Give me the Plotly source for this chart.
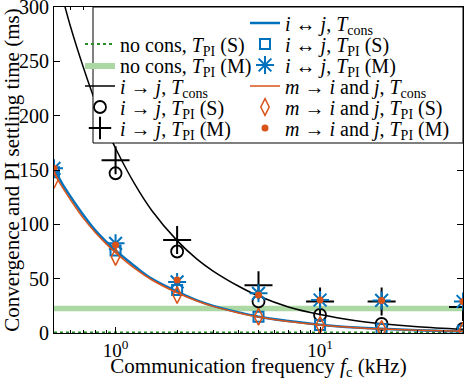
import math
import plotly.graph_objects as go

# ---------------- data ----------------
f_pts = [0.5, 1, 2, 5, 10, 20, 50]                 # kHz
ij_S = [None, 147, 75, 29, 16.6, 8.3, 3.7]         # i -> j, T_PI (S)
ij_M = [None, 159, 85.6, 44, 29, 29, 24]           # i -> j, T_PI (M)
bi_S = [148, 76, 39.6, 15, 7.4, 3.7, 2]            # i <-> j, T_PI (S)
bi_M = [151.5, 82.5, 47, 36.5, 30.4, 30, 29]       # i <-> j, T_PI (M)
m_S = [141, 70, 35, 15, 7.4, 3.7, 2]               # m -> i and j, T_PI (S)
m_M = [151.5, 81, 48.7, 35, 30.4, 30, 29]          # m -> i and j, T_PI (M)

f_curve = [0.5, 0.55, 0.6, 0.7, 0.8, 0.9, 1, 1.25, 1.5, 2, 2.5, 3, 4, 5, 7, 10, 15, 20, 30, 50]
ij_cons = [340, 309, 283, 243, 212, 189, 170, 136, 113, 85, 68, 57, 43, 34, 24, 17, 11.3, 8.5, 5.7, 3.4]
bi_cons = [151, 137, 126, 108, 94, 84, 76, 61, 50, 38, 30, 25, 19, 15, 11, 7.6, 5, 3.8, 2.5, 1.5]
m_cons = [147, 134, 123, 105, 92, 82, 74, 59, 49, 37, 29.5, 24.5, 18.5, 14.7, 10.5, 7.4, 4.9, 3.7, 2.5, 1.5]

f_span = [0.5, 50]
nocons_S = [0.5, 0.5]          # no consensus, T_PI (S)
nocons_M_lo = [20, 20]         # no consensus, T_PI (M) band
nocons_M_hi = [25, 25]

x_tickvals = [1, 10]
x_ticktext = ["10<sup>0</sup>", "10<sup>1</sup>"]
x_minor = [0.5, 0.6, 0.7, 0.8, 0.9, 2, 3, 4, 5, 6, 7, 8, 9, 20, 30, 40, 50]
y_tickvals = [0, 50, 100, 150, 200, 250, 300]

# ---------------- style ----------------
FONT = "Liberation Serif, Times New Roman, serif"
BLUE = "#0072BD"
ORANGE = "#D95319"
BAND = "rgb(172,216,164)"
DOTG = "rgb(40,140,40)"
FS_TICK = 20
FS_XTICK = 19
FS_TITLE = 21
FS_LEG = 20

TPI = "<i>T</i><sub>PI</sub>"
TC = "<i>T</i><sub>cons</sub>"
IJ = "<i>i</i> → <i>j</i>"
BI = "<i>i</i> ↔ <i>j</i>"
MIJ = "<i>m</i> → <i>i</i> and <i>j</i>"

L, R, T, B = 54, 11, 7, 47
W, H = 474, 380
pw, ph = W - L - R, H - T - B

# legend slots: (column, row) -> each entry gets its own small legend
col_x = {0: 80, 1: 245}                  # pixel x of legend origin
row_y = [23, 44, 65, 86, 107, 128]       # pixel y of row centres

fig = go.Figure()
legends = {}
slot = [0]


def add(trace, col, row):
    slot[0] += 1
    key = "legend" if slot[0] == 1 else f"legend{slot[0]}"
    trace.legend = key
    fig.add_trace(trace)
    legends[key] = dict(x=(col_x[col] - L) / pw, y=1 - (row_y[row] - T) / ph,
                        xanchor="left", yanchor="middle",
                        bgcolor="rgba(0,0,0,0)", borderwidth=0,
                        font=dict(family=FONT, size=FS_LEG, color="black"),
                        itemwidth=30)


add(go.Scatter(x=f_span, y=nocons_S, mode="lines",
               line=dict(color=DOTG, width=2, dash="dot"),
               name=f"no cons, {TPI} (S)"), 0, 1)
add(go.Scatter(x=f_span + f_span[::-1], y=nocons_M_lo + nocons_M_hi[::-1],
               mode="lines", fill="toself", fillcolor=BAND,
               line=dict(width=0, color=BAND),
               name=f"no cons, {TPI} (M)"), 0, 2)
add(go.Scatter(x=f_curve, y=ij_cons, mode="lines", line_shape="spline",
               line=dict(color="black", width=1.5),
               name=f"{IJ}, {TC}"), 0, 3)
add(go.Scatter(x=f_pts, y=ij_S, mode="markers",
               marker=dict(symbol="circle-open", size=12, color="black",
                           line=dict(width=1.8, color="black")),
               name=f"{IJ}, {TPI} (S)"), 0, 4)
add(go.Scatter(x=f_pts, y=ij_M, mode="markers",
               marker=dict(symbol="cross-thin-open", size=20, color="black",
                           line=dict(width=2, color="black")),
               name=f"{IJ}, {TPI} (M)"), 0, 5)
add(go.Scatter(x=f_curve, y=bi_cons, mode="lines", line_shape="spline",
               line=dict(color=BLUE, width=2.5),
               name=f"{BI}, {TC}"), 1, 0)
add(go.Scatter(x=f_pts, y=bi_S, mode="markers",
               marker=dict(symbol="square-open", size=10, color=BLUE,
                           line=dict(width=2, color=BLUE)),
               name=f"{BI}, {TPI} (S)"), 1, 1)
add(go.Scatter(x=f_pts, y=bi_M, mode="markers",
               marker=dict(symbol="asterisk-open", size=15, color=BLUE,
                           line=dict(width=2, color=BLUE)),
               name=f"{BI}, {TPI} (M)"), 1, 2)
add(go.Scatter(x=f_curve, y=m_cons, mode="lines", line_shape="spline",
               line=dict(color=ORANGE, width=1.5),
               name=f"{MIJ}, {TC}"), 1, 3)
add(go.Scatter(x=f_pts, y=m_S, mode="markers",
               marker=dict(symbol="diamond-tall-open", size=12, color=ORANGE,
                           line=dict(width=1.5, color=ORANGE)),
               name=f"{MIJ}, {TPI} (S)"), 1, 4)
add(go.Scatter(x=f_pts, y=m_M, mode="markers",
               marker=dict(symbol="circle", size=7, color=ORANGE),
               name=f"{MIJ}, {TPI} (M)"), 1, 5)

fig.update_layout(
    width=W, height=H,
    margin=dict(l=L, r=R, t=T, b=B, autoexpand=False),
    paper_bgcolor="white", plot_bgcolor="white",
    font=dict(family=FONT, size=FS_TICK, color="black"),
    showlegend=True,
    shapes=[dict(type="rect", xref="paper", yref="paper",
                 x0=(93 - L) / pw, x1=1.0, y0=(333 - 143) / ph, y1=1.0,
                 line=dict(color="black", width=1), fillcolor="white", layer="above")],
    xaxis=dict(type="log", range=[math.log10(0.5), math.log10(50)],
               tickvals=x_tickvals, ticktext=x_ticktext,
               ticks="inside", ticklen=6, tickcolor="black",
               minor=dict(tickvals=x_minor, ticks="inside", ticklen=3, tickcolor="black"),
               showline=True, linecolor="black", linewidth=1, mirror="ticks",
               showgrid=False, zeroline=False, ticklabeloverflow="allow",
               automargin=False,
               tickfont=dict(family=FONT, size=FS_XTICK),
               title=dict(text="Communication frequency <i>f</i><sub>c</sub> (kHz)",
                          font=dict(family=FONT, size=FS_TITLE), standoff=8)),
    yaxis=dict(range=[0, 300], tickvals=y_tickvals,
               ticks="inside", ticklen=6, tickcolor="black",
               showline=True, linecolor="black", linewidth=1, mirror="ticks",
               showgrid=False, zeroline=False, ticklabeloverflow="allow",
               automargin=False,
               tickfont=dict(family=FONT, size=FS_TICK),
               title=dict(text="Convergence and PI settling time (ms)",
                          font=dict(family=FONT, size=FS_TITLE), standoff=2)),
)
fig.update_layout(**legends)

fig.write_html("out.html", config={"displayModeBar": False},
               post_script="document.body.style.margin='0px';")
